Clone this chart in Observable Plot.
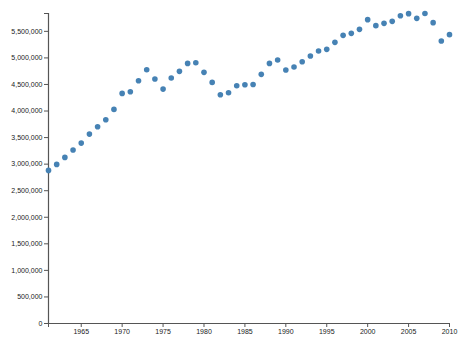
<!DOCTYPE html>
<html>
<head>
<meta charset="utf-8">
<script src="https://cdn.jsdelivr.net/npm/d3@7"></script>
<script src="https://cdn.jsdelivr.net/npm/@observablehq/plot@0.6"></script>
<style>
  html, body { margin: 0; padding: 0; background: #fff; }
</style>
</head>
<body>
<div id="chart"></div>
<script>
const years = d3.range(1961, 2011);
const values = [
  2882000, 2995000, 3127000, 3265000, 3396000, 3566000, 3704000, 3836000, 4031000, 4332000,
  4364000, 4571000, 4778000, 4602000, 4413000, 4621000, 4747000, 4897000, 4910000, 4728000,
  4539000, 4307000, 4345000, 4477000, 4496000, 4500000, 4690000, 4897000, 4960000, 4771000,
  4828000, 4929000, 5035000, 5129000, 5161000, 5293000, 5425000, 5462000, 5538000, 5720000,
  5607000, 5651000, 5688000, 5795000, 5833000, 5745000, 5836000, 5664000, 5317000, 5438000
];
const xTicks = [1965, 1970, 1975, 1980, 1985, 1990, 1995, 2000, 2005, 2010];
const yTicks = [0, 500000, 1000000, 1500000, 2000000, 2500000, 3000000, 3500000, 4000000, 4500000, 5000000, 5500000];

const data = years.map((y, i) => ({year: y, value: values[i]}));
const yMax = d3.max(values);
const axisColor = "#555";
const textColor = "#222";
const commaFmt = d3.format(",");
const yearFmt = d3.format("d");

const chart = Plot.plot({
  width: 474,
  height: 357,
  marginLeft: 48,
  marginRight: 25,
  marginTop: 13,
  marginBottom: 34,
  style: {fontFamily: "'Liberation Sans', Arial, sans-serif", fontSize: "7px", color: textColor, background: "#fff"},
  x: {domain: [1961, 2010], label: null},
  y: {domain: [0, yMax], label: null},
  marks: [
    Plot.axisY({ticks: yTicks, tickFormat: d => commaFmt(d), tickSize: 4, tickPadding: 2, stroke: axisColor, fill: textColor, label: null}),
    Plot.axisY({ticks: [yMax], tickFormat: () => "", tickSize: 4, stroke: axisColor, label: null}),
    Plot.axisX({ticks: xTicks, tickFormat: d => yearFmt(d), tickSize: 4, tickPadding: 2, stroke: axisColor, fill: textColor, label: null}),
    Plot.axisX({ticks: [1961], tickFormat: () => "", tickSize: 4, stroke: axisColor, label: null}),
    Plot.ruleX([1961], {stroke: axisColor, strokeWidth: 1.2}),
    Plot.ruleY([0], {stroke: axisColor, strokeWidth: 1.2}),
    Plot.dot(data, {x: "year", y: "value", r: 2.8, fill: "steelblue", stroke: null})
  ]
});
document.getElementById("chart").appendChild(chart);
</script>
</body>
</html>
